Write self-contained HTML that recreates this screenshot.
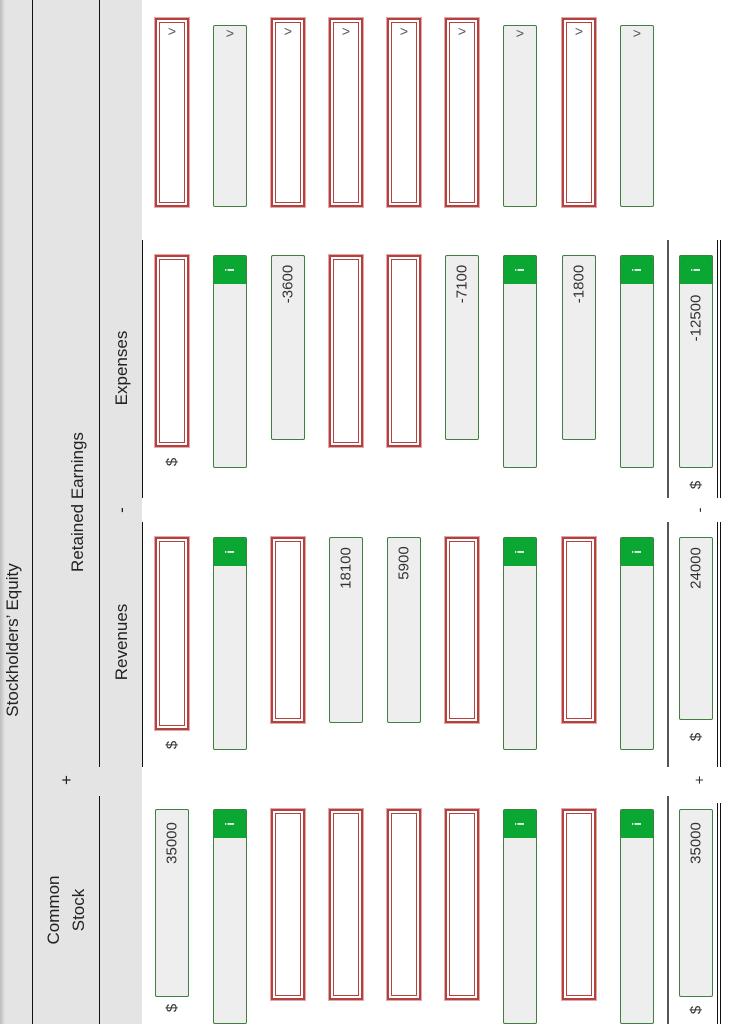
<!DOCTYPE html>
<html style="overflow:hidden;height:1024px"><head><meta charset="utf-8"><style>
body{margin:0;width:729px;height:1024px;position:relative;overflow:hidden;background:#fff;font-family:"Liberation Sans",sans-serif;color:#333}
div{position:absolute;box-sizing:border-box}
.hd{left:0;top:0;width:142px;height:1024px;background:#e4e4e4}
.sh{left:0;top:0;width:5px;height:1024px;background:linear-gradient(90deg,#bbb,#e4e4e4)}
.ln{background:#111;width:1px}
.sep{background:#555;width:2px}
.r{width:34px;border:2px solid #b3413f;box-shadow:0 0 0 1px #e3a9a9,inset 0 0 0 2px #fff,inset 0 0 0 3px #b3413f;background:#fff}
.g{width:34px;border:1px solid #3f7f3f;background:#eee;border-radius:2px;overflow:hidden}
.g .tb{left:0;top:0;width:100%;height:28px;background:#0aa832}
.g .tb span{position:absolute;left:50%;top:50%;transform:translate(-50%,-50%) rotate(-90deg);color:#fff;font-weight:bold;font-size:12px}
.v{width:34px;border:1px solid #3f7f3f;background:#eee;border-radius:2px}
.dd{width:34px;height:182px;top:25px;border:1px solid #3f7f3f;background:#eee;border-radius:2px}
.t{transform:translate(-50%,-50%) rotate(-90deg);white-space:nowrap;text-align:center}
.hv{font-size:17px;color:#222}
.val{font-size:15px;color:#333}
.ch{font-size:14px;color:#555;transform:translate(-50%,-50%)}
.dl{background:#111;width:1px}
</style></head><body>
<div class="hd"></div><div class="sh"></div>
<div class="ln" style="left:32px;top:0;height:1024px"></div>
<div class="ln" style="left:99px;top:0;height:767px"></div>
<div class="ln" style="left:99px;top:796px;height:228px"></div>
<div class="ln" style="left:142px;top:240px;height:258px"></div>
<div class="ln" style="left:142px;top:522px;height:245px"></div>

<div class="t hv" style="left:13px;top:640px">Stockholders’ Equity</div>
<div class="t hv" style="left:78px;top:502px">Retained Earnings</div>
<div class="t hv" style="left:66px;top:910px;line-height:25px">Common<br>Stock</div>
<div class="t hv" style="left:67px;top:780px">+</div>
<div class="t hv" style="left:122px;top:642px">Revenues</div>
<div class="t hv" style="left:122px;top:510px">-</div>
<div class="t hv" style="left:122px;top:368px">Expenses</div>

<div class="sep" style="left:667px;top:240px;height:258px"></div>
<div class="sep" style="left:667px;top:522px;height:245px"></div>
<div class="sep" style="left:667px;top:796px;height:228px"></div>
<div class="dl" style="left:717px;top:240px;height:258px"></div><div class="dl" style="left:720px;top:240px;height:258px"></div>
<div class="dl" style="left:717px;top:522px;height:245px"></div><div class="dl" style="left:720px;top:522px;height:245px"></div>
<div class="dl" style="left:717px;top:803px;height:221px"></div><div class="dl" style="left:720px;top:803px;height:221px"></div>

<div class="r" style="left:155px;top:18px;height:189px"></div><div class="t ch" style="left:172px;top:31px">&gt;</div>
<div class="dd" style="left:213px"></div><div class="t ch" style="left:230px;top:33px">&gt;</div>
<div class="r" style="left:271px;top:18px;height:189px"></div><div class="t ch" style="left:288px;top:31px">&gt;</div>
<div class="r" style="left:329px;top:18px;height:189px"></div><div class="t ch" style="left:346px;top:31px">&gt;</div>
<div class="r" style="left:387px;top:18px;height:189px"></div><div class="t ch" style="left:404px;top:31px">&gt;</div>
<div class="r" style="left:445px;top:18px;height:189px"></div><div class="t ch" style="left:462px;top:31px">&gt;</div>
<div class="dd" style="left:503px"></div><div class="t ch" style="left:520px;top:33px">&gt;</div>
<div class="r" style="left:562px;top:18px;height:189px"></div><div class="t ch" style="left:579px;top:31px">&gt;</div>
<div class="dd" style="left:620px"></div><div class="t ch" style="left:637px;top:33px">&gt;</div>

<div class="r" style="left:155px;top:255px;height:192px"></div>
<div class="t val" style="left:172px;top:462px">$</div>
<div class="r" style="left:155px;top:537px;height:193px"></div>
<div class="t val" style="left:172px;top:745px">$</div>
<div class="v" style="left:155px;top:809px;height:188px"></div>
<div class="t val" style="left:172px;top:843px">35000</div>
<div class="t val" style="left:172px;top:1008px">$</div>

<div class="g" style="left:213px;top:255px;height:213px"><div class="tb"><span>i</span></div></div>
<div class="g" style="left:213px;top:537px;height:213px"><div class="tb"><span>i</span></div></div>
<div class="g" style="left:213px;top:809px;height:215px"><div class="tb"><span>i</span></div></div>

<div class="v" style="left:271px;top:255px;height:185px"></div><div class="t val" style="left:288px;top:284px">-3600</div>
<div class="r" style="left:271px;top:537px;height:186px"></div>
<div class="r" style="left:271px;top:809px;height:191px"></div>

<div class="r" style="left:329px;top:255px;height:192px"></div>
<div class="v" style="left:329px;top:537px;height:186px"></div><div class="t val" style="left:346px;top:568px">18100</div>
<div class="r" style="left:329px;top:809px;height:191px"></div>

<div class="r" style="left:387px;top:255px;height:192px"></div>
<div class="v" style="left:387px;top:537px;height:186px"></div><div class="t val" style="left:404px;top:563px">5900</div>
<div class="r" style="left:387px;top:809px;height:191px"></div>

<div class="v" style="left:445px;top:255px;height:185px"></div><div class="t val" style="left:462px;top:284px">-7100</div>
<div class="r" style="left:445px;top:537px;height:186px"></div>
<div class="r" style="left:445px;top:809px;height:191px"></div>

<div class="g" style="left:503px;top:255px;height:213px"><div class="tb"><span>i</span></div></div>
<div class="g" style="left:503px;top:537px;height:213px"><div class="tb"><span>i</span></div></div>
<div class="g" style="left:503px;top:809px;height:215px"><div class="tb"><span>i</span></div></div>

<div class="v" style="left:562px;top:255px;height:185px"></div><div class="t val" style="left:579px;top:284px">-1800</div>
<div class="r" style="left:562px;top:537px;height:186px"></div>
<div class="r" style="left:562px;top:809px;height:191px"></div>

<div class="g" style="left:620px;top:255px;height:213px"><div class="tb"><span>i</span></div></div>
<div class="g" style="left:620px;top:537px;height:213px"><div class="tb"><span>i</span></div></div>
<div class="g" style="left:620px;top:809px;height:215px"><div class="tb"><span>i</span></div></div>

<div class="g" style="left:679px;top:255px;height:213px"><div class="tb"><span>i</span></div></div>
<div class="t val" style="left:696px;top:318px">-12500</div>
<div class="t val" style="left:696px;top:485px">$</div>
<div class="t val" style="left:700px;top:510px">-</div>
<div class="v" style="left:679px;top:537px;height:183px"></div><div class="t val" style="left:696px;top:568px">24000</div>
<div class="t val" style="left:696px;top:737px">$</div>
<div class="t val" style="left:700px;top:780px">+</div>
<div class="v" style="left:679px;top:809px;height:188px"></div><div class="t val" style="left:696px;top:843px">35000</div>
<div class="t val" style="left:696px;top:1010px">$</div>
</body></html>
